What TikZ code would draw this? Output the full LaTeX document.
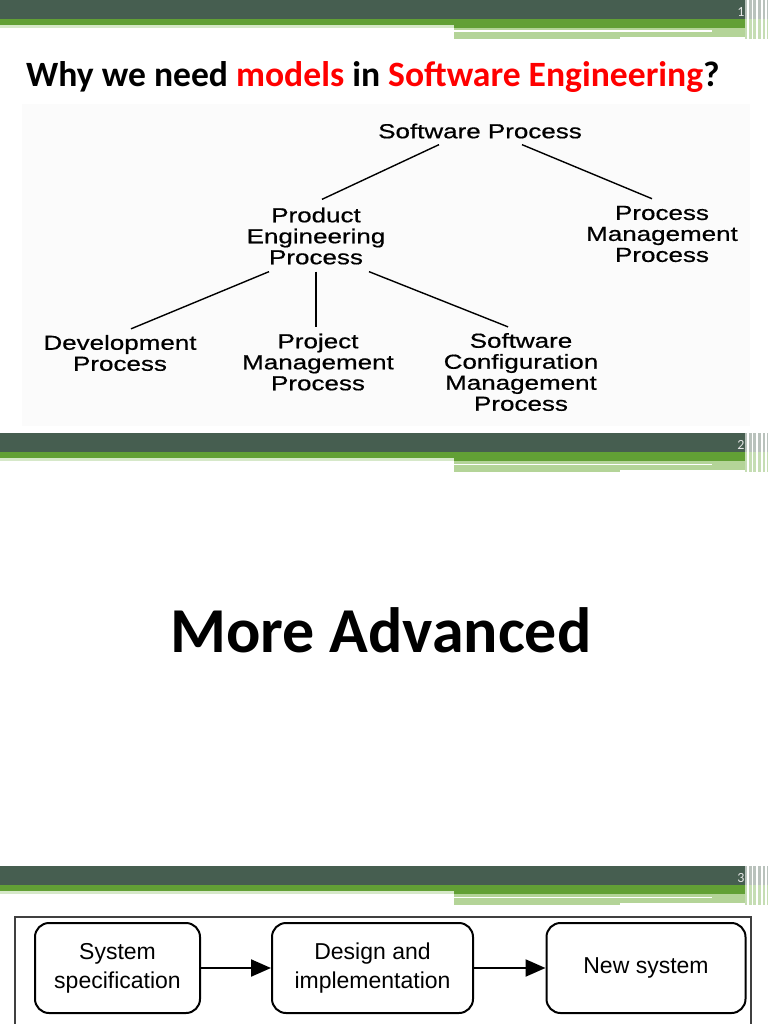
\documentclass[tikz,border=0pt]{standalone}
\usepackage{fontspec}
\usepackage{xcolor}
\setmainfont{Carlito}
\newfontfamily\scanfont[FakeStretch=1.28,FakeBold=0.6]{Liberation Sans}
\newfontfamily\flowfont{Liberation Sans}
\usetikzlibrary{arrows.meta,positioning,calc}
\definecolor{hdark}{HTML}{465E50}
\definecolor{hgreen}{HTML}{62A035}
\definecolor{hlight}{HTML}{B4D498}
\definecolor{hpale}{HTML}{D6E8C9}
\definecolor{numgray}{HTML}{E6E6E6}
\definecolor{stripegray}{HTML}{B9C2BC}
\definecolor{stripegreen}{HTML}{C5DDB3}

\begin{document}
\begin{tikzpicture}[
  x=1pt, y=-1pt,
  title/.style={font=\bfseries\fontsize{35.6}{42}\selectfont, inner sep=0pt, anchor=base west},
  bigtitle/.style={font=\bfseries\fontsize{64}{77}\selectfont, inner sep=0pt, anchor=base},
  pagenum/.style={font=\fontsize{14}{16}\selectfont, text=numgray, inner sep=0pt},
  proc/.style={font=\scanfont\fontsize{20.3}{21}\selectfont, align=center, inner sep=0pt},
  branch/.style={line width=1.4pt},
  stage/.style={draw, line width=2pt, rounded corners=14pt, minimum height=90pt, align=center, font=\flowfont\fontsize{23}{29}\selectfont},
  flow/.style={line width=2.2pt, -{Triangle[length=20pt,width=17pt]}},
]
\useasboundingbox (0,0) rectangle (768,1024);

% slide headers
\foreach \t/\n in {0/1, 433/2, 866/3} {
  \fill[hdark] (0,\t) rectangle (745,\t+19);
  \fill[hgreen] (0,\t+19) rectangle (745,\t+25);
  \fill[hgreen] (454,\t+25) rectangle (745,\t+28);
  \fill[hpale] (0,\t+25) rectangle (454,\t+28);
  \fill[hlight] (454,\t+28) rectangle (745,\t+37);
  \fill[hlight] (454,\t+37) rectangle (620,\t+39);
  \fill[white] (454,\t+30.5) rectangle (712,\t+32);
  \fill[stripegray] (745,\t) rectangle (768,\t+19);
  \fill[stripegreen] (745,\t+19) rectangle (768,\t+39);
  \foreach \x in {748,752.5,757,762,766}
    \draw[white, line width=1.4pt] (\x,\t) -- (\x,\t+39);
  \node[pagenum] (num\n) at (741,\t+12) {\n};
}

% slide 1
\node[title] (title) at (26,87) {Why we need \textcolor{red}{models} in \textcolor{red}{Software Engineering}?};
\fill[gray!3] (22,104) rectangle (750,426);
\node[proc] (sp) at (480,131) {Software Process};
\node[proc] (pep) at (316,236) {Product\\Engineering\\Process};
\node[proc] (pmp) at (662,234) {Process\\Management\\Process};
\node[proc] (dp) at (120,353) {Development\\Process};
\node[proc] (pjmp) at (318,362) {Project\\Management\\Process};
\node[proc] (scmp) at (521,372) {Software\\Configuration\\Management\\Process};
\draw[branch] ([shift={(-41,6)}]sp.south) -- ([shift={(6,-8)}]pep.north);
\draw[branch] ([shift={(42,6)}]sp.south) -- ([shift={(-10,-7)}]pmp.north);
\draw[branch] ([shift={(-47,7)}]pep.south) -- ([shift={(11,-6)}]dp.north);
\draw[branch] ([shift={(0,7)}]pep.south) -- ([shift={(-2,-6)}]pjmp.north);
\draw[branch] ([shift={(53,7)}]pep.south) -- ([shift={(-13,-6)}]scmp.north);

% slide 2
\node[bigtitle] (advanced) at (381,652) {More Advanced};

% slide 3
\draw[black!75, line width=1.5pt] (15,1024) -- (15,917) -- (751,917) -- (751,1024);
\node[stage, minimum width=165pt] (spec) at (117.5,968) {System\\specification};
\node[stage, minimum width=201pt] (impl) at (372.5,968) {Design and\\implementation};
\node[stage, minimum width=199pt] (newsys) at (646,968) {New system};
\draw[flow] (spec) -- (impl);
\draw[flow] (impl) -- (newsys);
\end{tikzpicture}
\end{document}
